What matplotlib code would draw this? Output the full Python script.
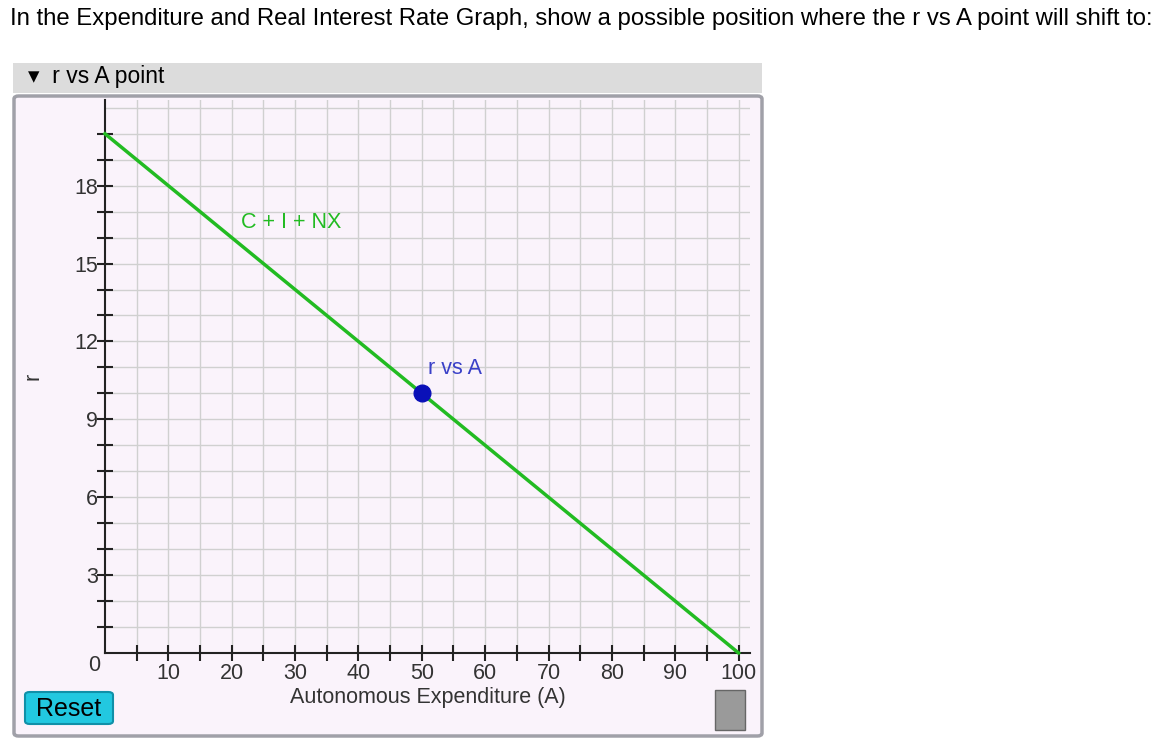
import matplotlib
matplotlib.use("Agg")
import matplotlib.pyplot as plt
from matplotlib.patches import Rectangle, FancyBboxPatch

line_x = [0, 100]
line_r = [20, 0]
point_x = [50]
point_r = [10]
xticks_major = [10, 20, 30, 40, 50, 60, 70, 80, 90, 100]
yticks_major = [0, 3, 6, 9, 12, 15, 18]

plt.rcParams['font.family'] = ['Liberation Sans', 'DejaVu Sans']
W, H = 1168, 747
fig = plt.figure(figsize=(W/100, H/100), dpi=100)
fig.patch.set_facecolor("white")
def fx(px): return px / W
def fy(py): return 1 - py / H

fig.text(fx(10), fy(19), "In the Expenditure and Real Interest Rate Graph, show a possible position where the r vs A point will shift to:",
         fontsize=17.2, va="center", ha="left")
fig.patches.append(Rectangle((fx(13), fy(93)), fx(749), 30/H, transform=fig.transFigure,
                             facecolor="#dcdcdc", edgecolor="none", zorder=-2))
fig.text(fx(28), fy(77), "▾  r vs A point", fontsize=16.5, va="center", ha="left")
fig.patches.append(FancyBboxPatch((fx(14), fy(736)), fx(748), 640/H, transform=fig.transFigure,
                                  boxstyle="round,pad=0,rounding_size=0.004",
                                  facecolor="#faf3fb", edgecolor="#a0a0a8", linewidth=2.5, zorder=-2))

ax = fig.add_axes([fx(105), fy(653), fx(645), (653-100)/H])
ax.set_facecolor("#faf3fb")
ax.set_xlim(0, 101.8)
ax.set_ylim(0, 21.3)
for s in ["top", "right"]:
    ax.spines[s].set_visible(False)
for s in ["left", "bottom"]:
    ax.spines[s].set_color("#222222"); ax.spines[s].set_linewidth(1.5)
for gx in range(5, 101, 5):
    ax.axvline(gx, color="#d0d0d0", lw=1, zorder=0)
for gy in range(1, 22):
    ax.axhline(gy, color="#d0d0d0", lw=1, zorder=0)
ax.set_xticks(range(5, 101, 5))
ax.set_xticklabels([str(v) if v in xticks_major else "" for v in range(5, 101, 5)])
ax.set_yticks(range(1, 21))
ax.set_yticklabels([str(v) if v in yticks_major else "" for v in range(1, 21)])
ax.tick_params(axis="both", direction="inout", length=12, width=1.5, color="#222222",
               labelsize=15.5, labelcolor="#333333")
ax.tick_params(axis="x", pad=1)
ax.tick_params(axis="y", pad=-1)
ax.text(-0.8, -0.5, "0", fontsize=15.5, ha="right", va="center", color="#333333")

ax.plot(line_x, line_r, color="#22bb22", lw=2.5, clip_on=False, zorder=3)
ax.plot(point_x, point_r, "o", color="#0a10b8", ms=12, zorder=4, clip_on=False)
ax.text(21.5, 16.6, "C + I + NX", color="#22bb22", fontsize=15.5, ha="left", va="center")
ax.text(51.0, 10.95, "r vs A", color="#3a40c8", fontsize=15.5, ha="left", va="center")

ax.set_xlabel("Autonomous Expenditure (A)", fontsize=15.5, color="#333333", labelpad=2)
ax.set_ylabel("r", fontsize=15.5, color="#333333", labelpad=22)

fig.patches.append(FancyBboxPatch((fx(25), fy(724)), fx(88), 32/H, transform=fig.transFigure,
                                  boxstyle="round,pad=0,rounding_size=0.004",
                                  facecolor="#22c8e0", edgecolor="#1090a8", linewidth=1.5))
fig.text(fx(69), fy(709), "Reset", fontsize=18, ha="center", va="center", color="black")
fig.patches.append(Rectangle((fx(715), fy(730)), fx(30), 40/H, transform=fig.transFigure,
                             facecolor="#9a9a9a", edgecolor="#666666", lw=1))

fig.savefig("out.png", dpi=100)
